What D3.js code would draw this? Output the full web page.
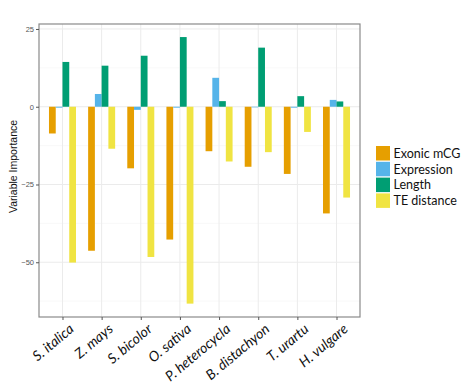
<!DOCTYPE html>
<html>
<head>
<meta charset="utf-8">
<script src="https://cdn.jsdelivr.net/npm/d3@7"></script>
<style>
  body { margin: 0; background: #fff; }
</style>
</head>
<body>
<div id="board"></div>
<script>
// species on the x axis
const species = ["S. italica", "Z. mays", "S. bicolor", "O. sativa", "P. heterocycla", "B. distachyon", "T. urartu", "H. vulgare"];
const variables = ["Exonic mCG", "Expression", "Length", "TE distance"];
const colors = ["#E69F00", "#56B4E9", "#009E73", "#F0E442"];

// variable importance per species, one array per variable
const exonicMCG  = [-8.6, -46.3, -19.8, -42.7, -14.3, -19.3, -21.6, -34.3];
const expression = [-0.3, 4.1, -1.0, -0.3, 9.3, -0.2, -0.3, 2.2];
const lengthImp  = [14.4, 13.2, 16.4, 22.4, 1.8, 19.0, 3.4, 1.7];
const teDistance = [-50.1, -13.5, -48.3, -63.3, -17.6, -14.6, -8.1, -29.2];
const yTicks = [25, 0, -25, -50];
const yMinor = [12.5, -12.5, -37.5, -62.5];

const series = [exonicMCG, expression, lengthImp, teDistance];

const width = 474;
const height = 385;
const marginTop = 24;
const marginRight = 114;
const marginBottom = 68;
const marginLeft = 39;

const svg = d3.create("svg")
    .attr("width", width)
    .attr("height", height)
    .style("font-family", "Lato, 'Open Sans', sans-serif");

// discrete x scale with ggplot-like 0.6 expansion
const x = d3.scalePoint()
    .domain(species)
    .range([marginLeft, width - marginRight])
    .padding(0.6);

const y = d3.scaleLinear()
    .domain([-67.6, 26.6])
    .range([height - marginBottom, marginTop]);

const step = x.step();
const groupWidth = step * 0.69;
const xInner = d3.scaleBand()
    .domain(variables)
    .range([-groupWidth / 2, groupWidth / 2]);

// grid
const grid = svg.append("g");
grid.selectAll("line.minor")
    .data(yMinor)
    .join("line")
    .attr("x1", marginLeft).attr("x2", width - marginRight)
    .attr("y1", d => y(d)).attr("y2", d => y(d))
    .attr("stroke", "#f4f4f4").attr("stroke-width", 0.6);
grid.selectAll("line.majy")
    .data(yTicks)
    .join("line")
    .attr("x1", marginLeft).attr("x2", width - marginRight)
    .attr("y1", d => y(d)).attr("y2", d => y(d))
    .attr("stroke", "#ebebeb").attr("stroke-width", 1);
grid.selectAll("line.majx")
    .data(species)
    .join("line")
    .attr("x1", d => x(d)).attr("x2", d => x(d))
    .attr("y1", marginTop).attr("y2", height - marginBottom)
    .attr("stroke", "#ebebeb").attr("stroke-width", 1);

// bars
const rows = [];
species.forEach((s, i) => {
  variables.forEach((v, j) => {
    rows.push({ species: s, variable: v, value: series[j][i], color: colors[j] });
  });
});

svg.append("g")
    .selectAll("rect")
    .data(rows)
    .join("rect")
    .attr("x", d => x(d.species) + xInner(d.variable))
    .attr("width", xInner.bandwidth())
    .attr("y", d => y(Math.max(0, d.value)))
    .attr("height", d => Math.abs(y(d.value) - y(0)))
    .attr("fill", d => d.color);

// panel border
svg.append("rect")
    .attr("x", marginLeft).attr("y", marginTop)
    .attr("width", width - marginRight - marginLeft)
    .attr("height", height - marginBottom - marginTop)
    .attr("fill", "none")
    .attr("stroke", "#8a8a8a")
    .attr("stroke-width", 1.2);

// y axis
const yAxis = svg.append("g")
    .attr("transform", `translate(${marginLeft},0)`)
    .call(d3.axisLeft(y).tickValues(yTicks).tickSize(3).tickPadding(2));
yAxis.select(".domain").remove();
yAxis.selectAll(".tick line").attr("stroke", "#555");
yAxis.selectAll(".tick text")
    .attr("fill", "#555")
    .style("font-family", "Arial, 'Liberation Sans', sans-serif")
    .style("font-size", "7.5px");

// x axis
const xAxis = svg.append("g")
    .attr("transform", `translate(0,${height - marginBottom})`)
    .call(d3.axisBottom(x).tickSize(3).tickFormat(""));
xAxis.select(".domain").remove();
xAxis.selectAll(".tick line").attr("stroke", "#555");

svg.append("g")
    .selectAll("text")
    .data(species)
    .join("text")
    .attr("transform", d => `translate(${x(d) + 6},${height - marginBottom + 6}) rotate(-40)`)
    .attr("text-anchor", "end")
    .attr("dy", "0.7em")
    .style("font-style", "italic")
    .style("font-size", "14px")
    .attr("fill", "#111")
    .text(d => d);

// y title
svg.append("text")
    .attr("transform", `translate(17,${(marginTop + height - marginBottom) / 2 - 4}) rotate(-90)`)
    .attr("text-anchor", "middle")
    .style("font-family", "Arial, 'Liberation Sans', sans-serif")
    .style("font-size", "10.5px")
    .attr("fill", "#111")
    .text("Variable Importance");

// legend
const legend = svg.append("g")
    .attr("transform", "translate(376,146)");
const item = legend.selectAll("g")
    .data(variables)
    .join("g")
    .attr("transform", (d, i) => `translate(0,${i * 15.8})`);
item.append("rect")
    .attr("width", 14).attr("height", 14.5)
    .attr("fill", (d, i) => colors[i]);
item.append("text")
    .attr("x", 17.5).attr("y", 7.5)
    .attr("dy", "0.35em")
    .style("font-size", "12.5px")
    .attr("fill", "#111")
    .text(d => d);

document.getElementById("board").append(svg.node());
</script>
</body>
</html>
